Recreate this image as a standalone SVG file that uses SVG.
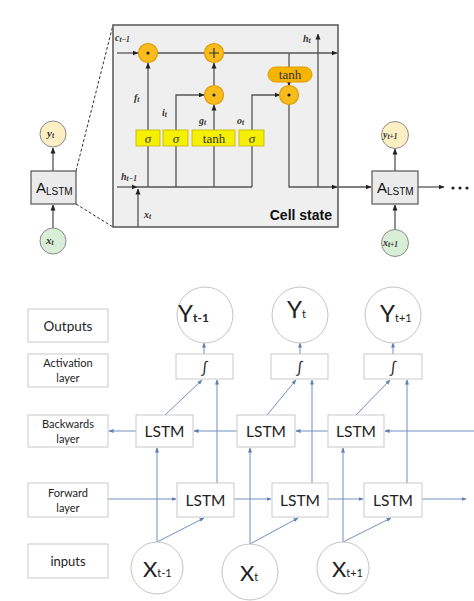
<svg xmlns="http://www.w3.org/2000/svg" width="474" height="601" viewBox="0 0 474 601">
<defs>
<marker id="ak" markerWidth="6" markerHeight="6" refX="5.5" refY="3" orient="auto" markerUnits="userSpaceOnUse"><path d="M0,0.5 L6,3 L0,5.5 z" fill="#222"/></marker>
<marker id="ab" markerWidth="5" markerHeight="5" refX="4.5" refY="2.5" orient="auto" markerUnits="userSpaceOnUse"><path d="M0,0.5 L5,2.5 L0,4.5 z" fill="#5b7fb0"/></marker>
</defs>
<style>
.k{stroke:#555;stroke-width:1.3;fill:none}
.ka{stroke:#555;stroke-width:1.3;fill:none;marker-end:url(#ak)}
.op{fill:#f8bd1c;stroke:#e09a00;stroke-width:1.2}
.gate{fill:#f5ef00;stroke:#c2b400;stroke-width:0.8}
.m{font-family:"Liberation Serif",serif;font-style:italic;font-weight:bold;fill:#333}
.gt{font-family:"Liberation Serif",serif;fill:#333;text-anchor:middle}
.bl{stroke:#6f90bd;stroke-width:1;fill:none;marker-end:url(#ab)}
.bn{stroke:#6f90bd;stroke-width:1;fill:none}
.bx{fill:#fff;stroke:#c9c9c9;stroke-width:1}
.lb{font-family:Lato,"Liberation Sans",sans-serif;fill:#222;text-anchor:middle}
.circ{fill:#fff;stroke:#c4c4c4;stroke-width:1}
</style>

<g id="dash">
<path d="M76,171 L113,25 M76,204 L113,227" stroke="#333" stroke-width="1" stroke-dasharray="3,2" fill="none"/>
</g>

<g id="cell">
<rect x="113" y="25" width="225" height="202" fill="#efefef" stroke="#555" stroke-width="1.5"/>
<text x="332" y="220" font-family="Liberation Sans,sans-serif" font-weight="bold" font-size="14" fill="#111" text-anchor="end">Cell state</text>
</g>

<g id="cell-lines">
<path class="ka" d="M117,53 H138"/>
<path class="ka" d="M157,53 H337"/>
<path class="ka" d="M148,187 V63"/>
<path class="ka" d="M176,187 V95 H204"/>
<path class="ka" d="M214,187 V105"/>
<path class="ka" d="M214,85 V63"/>
<path class="ka" d="M252,187 V95 H280"/>
<path class="k" d="M289,53 V68"/>
<path class="ka" d="M289,82 V86"/>
<path class="ka" d="M289,104 V187 H337"/>
<path class="ka" d="M318,187 V34"/>
<path class="ka" d="M117,187 H137"/>
<path class="k" d="M137,187 H252"/>
<path class="ka" d="M138,227 V189"/>
<path class="ka" d="M338,187 H371"/>
<path class="ka" d="M418,187 H444"/>
<path class="ka" d="M53,228 V205"/>
<path class="ka" d="M53,171 V148"/>
<path class="ka" d="M395,229 V205"/>
<path class="ka" d="M395,171 V149"/>
</g>

<g id="ops">
<circle class="op" cx="148" cy="53" r="9.5"/><circle cx="148" cy="53" r="1.6" fill="#222"/>
<circle class="op" cx="214" cy="53" r="9.5"/><path d="M209,53 H219 M214,48 V58" stroke="#333" stroke-width="1.2"/>
<circle class="op" cx="214" cy="95" r="9.5"/><circle cx="214" cy="95" r="1.6" fill="#222"/>
<circle class="op" cx="289" cy="95" r="9.5"/><circle cx="289" cy="95" r="1.6" fill="#222"/>
<rect x="268" y="67" width="44" height="15" rx="7.5" fill="#f5b400" stroke="#e09a00" stroke-width="1"/>
<text x="290" y="79" class="gt" font-size="13" fill="#4a3000">tanh</text>
</g>

<g id="gates">
<rect class="gate" x="136" y="130" width="24" height="16"/><text x="148" y="143" class="gt" font-size="13" font-style="italic">σ</text>
<rect class="gate" x="163" y="130" width="25" height="16"/><text x="176" y="143" class="gt" font-size="13" font-style="italic">σ</text>
<rect class="gate" x="192" y="130" width="43" height="16"/><text x="214" y="143" class="gt" font-size="13">tanh</text>
<rect class="gate" x="239" y="130" width="25" height="16"/><text x="252" y="143" class="gt" font-size="13" font-style="italic">σ</text>
</g>

<g id="cell-labels">
<text x="115" y="41" class="m" font-size="10">c<tspan font-size="7.5" dy="1">t−1</tspan></text>
<text x="303" y="42" class="m" font-size="10">h<tspan font-size="7.5" dy="1">t</tspan></text>
<text x="134" y="101" class="m" font-size="10">f<tspan font-size="7.5" dy="1">t</tspan></text>
<text x="162" y="116" class="m" font-size="10">i<tspan font-size="7.5" dy="1">t</tspan></text>
<text x="199" y="124" class="m" font-size="10">g<tspan font-size="7.5" dy="1">t</tspan></text>
<text x="237" y="124" class="m" font-size="10">o<tspan font-size="7.5" dy="1">t</tspan></text>
<text x="121" y="180" class="m" font-size="10">h<tspan font-size="7.5" dy="1">t−1</tspan></text>
<text x="144" y="218" class="m" font-size="10">x<tspan font-size="7.5" dy="1">t</tspan></text>
</g>

<g id="a-left">
<rect x="31" y="171" width="45" height="33" fill="#ebebeb" stroke="#555" stroke-width="1.2"/>
<text x="36" y="193" font-family="Liberation Sans,sans-serif" font-size="15" fill="#111">A<tspan font-size="10" dy="2">LSTM</tspan></text>
</g>
<g id="y-left">
<circle cx="53" cy="134" r="13" fill="#fcefc4" stroke="#8a8a8a" stroke-width="1"/>
<text x="47" y="137" class="m" font-size="11">y<tspan font-size="7.5" dy="1">t</tspan></text>
</g>
<g id="x-left">
<circle cx="53" cy="241" r="13" fill="#d9eed6" stroke="#8a8a8a" stroke-width="1"/>
<text x="46" y="244" class="m" font-size="11">x<tspan font-size="7.5" dy="1">t</tspan></text>
</g>
<g id="a-right">
<rect x="372" y="171" width="46" height="33" fill="#ebebeb" stroke="#555" stroke-width="1.2"/>
<text x="377" y="193" font-family="Liberation Sans,sans-serif" font-size="15" fill="#111">A<tspan font-size="10" dy="2">LSTM</tspan></text>
</g>
<g id="y-right">
<circle cx="395" cy="135" r="13.5" fill="#fcefc4" stroke="#8a8a8a" stroke-width="1"/>
<text x="383" y="138" class="m" font-size="10">y<tspan font-size="7.5" dy="1">t+1</tspan></text>
</g>
<g id="x-right">
<circle cx="395" cy="243" r="13.5" fill="#d9eed6" stroke="#8a8a8a" stroke-width="1"/>
<text x="383" y="246" class="m" font-size="10">x<tspan font-size="7.5" dy="1">t+1</tspan></text>
</g>
<g id="ellipsis">
<circle cx="453" cy="188" r="1.6" fill="#222"/><circle cx="460" cy="188" r="1.6" fill="#222"/><circle cx="467" cy="188" r="1.6" fill="#222"/>
</g>

<g id="connectors">
<path class="bl" d="M204,354 V343"/>
<path class="bl" d="M300,354 V343"/>
<path class="bl" d="M393,354 V343"/>
<path class="bl" d="M165,415 L202,380"/>
<path class="bl" d="M267,415 L296,380"/>
<path class="bl" d="M356,415 L390,380"/>
<path class="bl" d="M217,483 V380"/>
<path class="bl" d="M312,483 V380"/>
<path class="bl" d="M407,483 V380"/>
<path class="bl" d="M474,431 H385"/>
<path class="bl" d="M328,431 H296"/>
<path class="bl" d="M237,431 H194"/>
<path class="bl" d="M136,431 H109"/>
<path class="bl" d="M108,499 H176"/>
<path class="bl" d="M234,499 H271"/>
<path class="bl" d="M328,499 H363"/>
<path class="bl" d="M422,499 H466"/>
<path class="bl" d="M157,542 V448"/>
<path class="bl" d="M250,544 V448"/>
<path class="bl" d="M343,542 V448"/>
<path class="bl" d="M157,542 L204,518"/>
<path class="bl" d="M250,544 L298,518"/>
<path class="bl" d="M343,542 L391,518"/>
</g>

<g id="lbl-outputs"><rect class="bx" x="28" y="309" width="80" height="33"/><text x="68" y="331" class="lb" font-size="13.5">Outputs</text></g>
<g id="lbl-activation"><rect class="bx" x="28" y="354" width="80" height="33"/><text x="68" y="367" class="lb" font-size="11">Activation</text><text x="68" y="382" class="lb" font-size="11">layer</text></g>
<g id="lbl-backwards"><rect class="bx" x="28" y="415" width="80" height="32"/><text x="68" y="428" class="lb" font-size="11">Backwards</text><text x="68" y="443" class="lb" font-size="11">layer</text></g>
<g id="lbl-forward"><rect class="bx" x="28" y="483" width="80" height="34"/><text x="68" y="497" class="lb" font-size="11">Forward</text><text x="68" y="512" class="lb" font-size="11">layer</text></g>
<g id="lbl-inputs"><rect class="bx" x="28" y="544" width="80" height="34"/><text x="68" y="566" class="lb" font-size="13">inputs</text></g>

<g id="Y1"><circle class="circ" cx="205" cy="315" r="28"/><text x="178" y="322" font-family="Lato,Liberation Sans,sans-serif" font-size="24" fill="#222">Y<tspan font-size="12" font-weight="bold">t-1</tspan></text></g>
<g id="Y2"><circle class="circ" cx="300" cy="315" r="28"/><text x="287" y="318" font-family="Lato,Liberation Sans,sans-serif" font-size="24" fill="#222">Y<tspan font-size="11">t</tspan></text></g>
<g id="Y3"><circle class="circ" cx="393" cy="315" r="28"/><text x="380" y="322" font-family="Lato,Liberation Sans,sans-serif" font-size="24" fill="#222">Y<tspan font-size="11">t+1</tspan></text></g>

<g id="act1"><rect class="bx" x="176" y="354" width="57" height="25"/><text x="204.5" y="373" class="lb" font-family="DejaVu Sans,sans-serif" font-size="15">∫</text></g>
<g id="act2"><rect class="bx" x="271" y="354" width="57" height="25"/><text x="299.5" y="373" class="lb" font-family="DejaVu Sans,sans-serif" font-size="15">∫</text></g>
<g id="act3"><rect class="bx" x="364" y="354" width="58" height="25"/><text x="393" y="373" class="lb" font-family="DejaVu Sans,sans-serif" font-size="15">∫</text></g>

<g id="bw1"><rect class="bx" x="136" y="415" width="57" height="32"/><text x="164.5" y="437" class="lb" font-size="15.5">LSTM</text></g>
<g id="bw2"><rect class="bx" x="237" y="415" width="58" height="32"/><text x="266" y="437" class="lb" font-size="15.5">LSTM</text></g>
<g id="bw3"><rect class="bx" x="328" y="415" width="56" height="32"/><text x="356" y="437" class="lb" font-size="15.5">LSTM</text></g>

<g id="fw1"><rect class="bx" x="177" y="483" width="57" height="34"/><text x="205.5" y="506" class="lb" font-size="15.5">LSTM</text></g>
<g id="fw2"><rect class="bx" x="272" y="483" width="56" height="34"/><text x="300" y="506" class="lb" font-size="15.5">LSTM</text></g>
<g id="fw3"><rect class="bx" x="364" y="483" width="58" height="34"/><text x="393" y="506" class="lb" font-size="15.5">LSTM</text></g>

<g id="X1"><circle class="circ" cx="157" cy="568" r="26"/><text x="143" y="577" font-family="Lato,Liberation Sans,sans-serif" font-size="22" fill="#222">X<tspan font-size="11">t-1</tspan></text></g>
<g id="X2"><circle class="circ" cx="250" cy="572" r="28"/><text x="240" y="581" font-family="Lato,Liberation Sans,sans-serif" font-size="22" fill="#222">X<tspan font-size="11">t</tspan></text></g>
<g id="X3"><circle class="circ" cx="343" cy="568" r="26"/><text x="332" y="577" font-family="Lato,Liberation Sans,sans-serif" font-size="22" fill="#222">X<tspan font-size="11">t+1</tspan></text></g>
</svg>
